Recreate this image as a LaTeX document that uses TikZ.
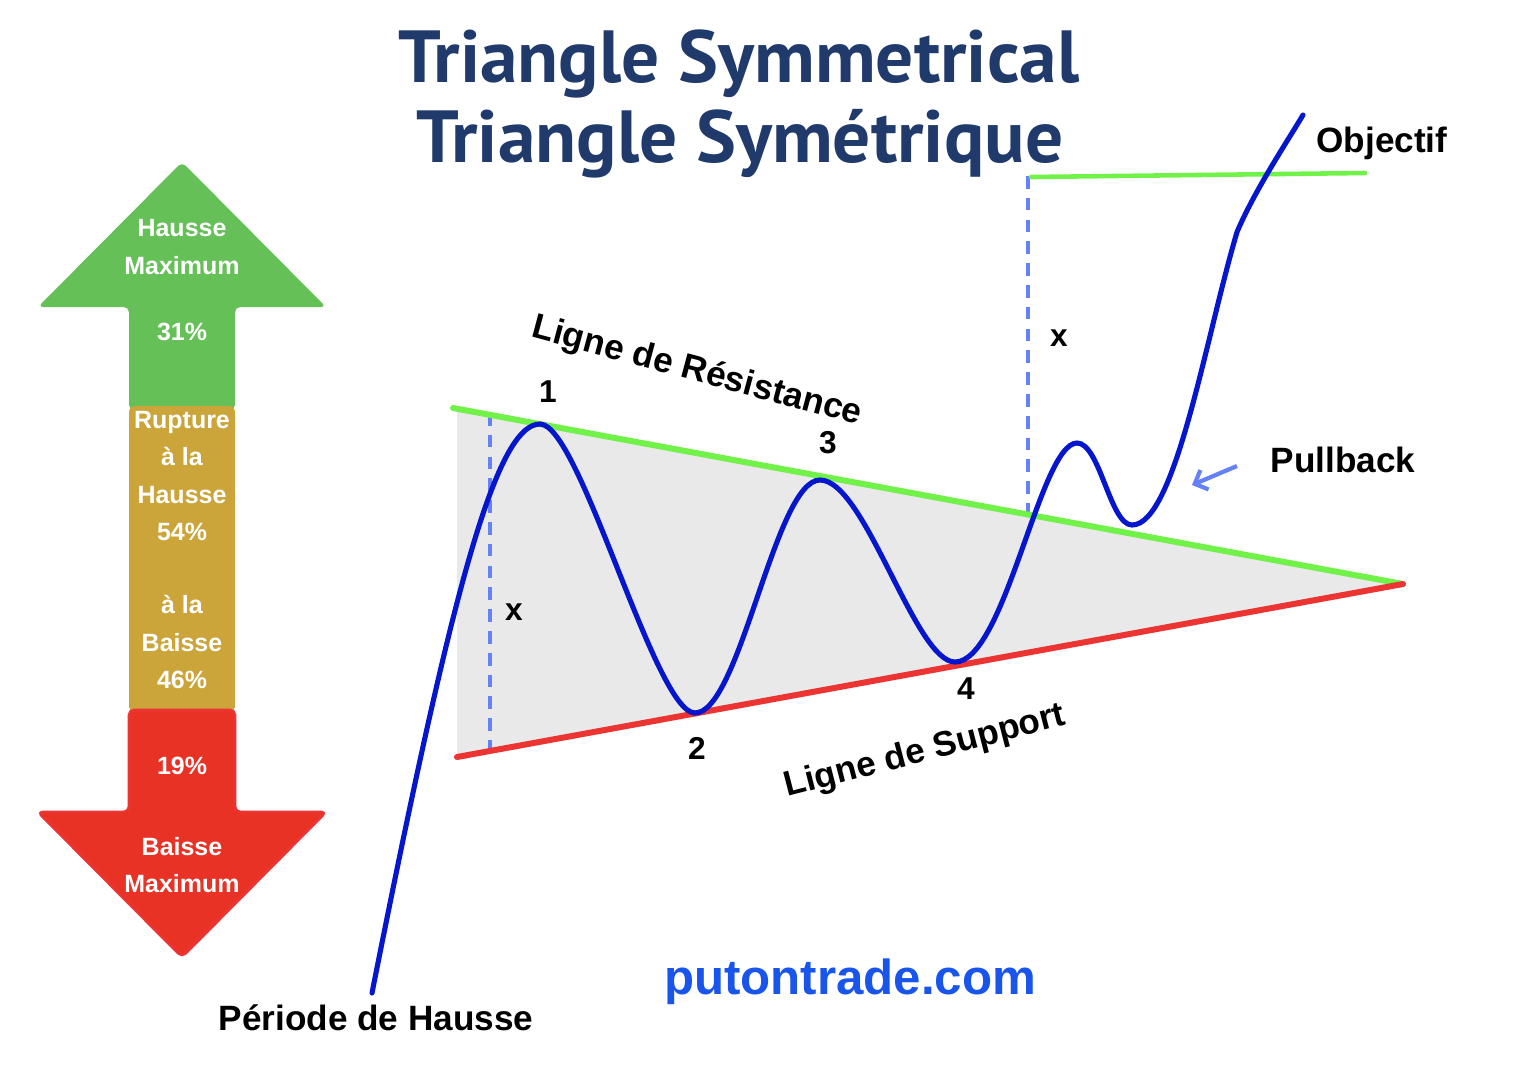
\documentclass[tikz,border=0pt]{standalone}
\usepackage{fontspec}
\setmainfont{Liberation Sans}
\newfontfamily\titlefont{PT Sans}
\usepackage{tikz}
\usetikzlibrary{arrows.meta, positioning, calc}
\usepackage{xcolor}
\definecolor{titlenavy}{RGB}{33, 58, 108}
\definecolor{upgreen}{RGB}{101, 192, 88}
\definecolor{rupgold}{RGB}{203, 165, 58}
\definecolor{downred}{RGB}{232, 50, 38}
\definecolor{resgreen}{RGB}{112, 242, 72}
\definecolor{supred}{RGB}{236, 52, 50}
\definecolor{curveblue}{RGB}{5, 22, 205}
\definecolor{dashblue}{RGB}{100, 130, 245}
\definecolor{siteblue}{RGB}{25, 85, 235}
\definecolor{trifill}{RGB}{233, 233, 233}

\begin{document}
\begin{tikzpicture}[x=0.01cm, y=-0.01cm,
  title/.style={font=\titlefont\bfseries\fontsize{21}{25}\selectfont, text=titlenavy, anchor=base, inner sep=0pt},
  arrtext/.style={font=\bfseries\fontsize{7.1}{10.6}\selectfont, text=white, align=center, inner sep=0pt},
  lbl/.style={font=\bfseries\fontsize{10}{12}\selectfont, inner sep=1pt},
  num/.style={font=\bfseries\fontsize{9}{11}\selectfont, inner sep=0pt},
  trend/.style={line width=1.7pt, line cap=round},
  wave/.style={line width=1.45pt, curveblue, line cap=round},
  measure/.style={line width=1.3pt, dashblue, dash pattern=on 3.6pt off 2.6pt},
]
  \useasboundingbox (0,0) rectangle (1536,1081);

  \node[title] (title1) at (739,82) {\scalebox{1.02}[1]{Triangle Symmetrical}};
  \node[title] (title2) at (740,162) {\scalebox{1.02}[1]{Triangle Symétrique}};

  \fill[upgreen, rounded corners=1.5pt] (38,307) -- (182,162) -- (326,307) -- (235,307) -- (235,410) -- (129,410) -- (129,307) -- cycle;
  \fill[rupgold, rounded corners=1.5pt] (129,406) rectangle (235,712);
  \fill[downred, draw=supred, line width=0.8pt, rounded corners=1.5pt] (129,710) -- (235,710) -- (235,812) -- (326,812) -- (182,957) -- (38,812) -- (129,812) -- cycle;

  \node[arrtext] (upMax) at (182,247) {Hausse\\Maximum};
  \node[arrtext] (upPct) at (182,332) {31\%};
  \node[arrtext] (rupUp) at (182,476) {Rupture\\à la\\Hausse\\54\%};
  \node[arrtext] (rupDown) at (182,642) {à la\\Baisse\\46\%};
  \node[arrtext] (downPct) at (182,766) {19\%};
  \node[arrtext] (downMax) at (182,865) {Baisse\\Maximum};

  \coordinate (resA) at (453,408);
  \coordinate (apex) at (1403,584);
  \coordinate (supA) at (457,757);
  \fill[trifill] (457,409) -- (apex) -- (supA) -- cycle;

  \coordinate (xlTop) at (490,413);
  \coordinate (xlBot) at (490,750);
  \coordinate (xrTop) at (1028,176);
  \coordinate (xrBot) at (1028,512);
  \draw[measure] (xlTop) -- (xlBot);
  \draw[measure] (xrTop) -- (xrBot);

  \draw[trend, resgreen] (resA) -- (apex);
  \draw[trend, supred] (supA) -- (apex);

  \coordinate (goalA) at (1031,177);
  \coordinate (goalB) at (1365,173);
  \draw[trend, resgreen, line width=1.3pt] (goalA) -- (goalB);

  \draw[wave] (372,993) .. controls (450,600) and (495,424) .. (540,424)
    .. controls (580,424) and (655,713) .. (695,713)
    .. controls (740,713) and (775,480) .. (820,480)
    .. controls (865,480) and (915,662) .. (955,662)
    .. controls (1005,662) and (1040,443) .. (1077,443)
    .. controls (1100,443) and (1110,525) .. (1132,525)
    .. controls (1175,525) and (1205,340) .. (1237,232)
    .. controls (1255,190) and (1285,145) .. (1303,115);

  \node[num] (n1) at (548,392) {1};
  \node[num] (n2) at (697,748) {2};
  \node[num] (n3) at (828,443) {3};
  \node[num] (n4) at (966,689) {4};
  \node[num] (xl) at (514,612) {x};
  \node[num] (xr) at (1059,338) {x};

  \node[lbl, rotate=-15] (resLbl) at (697,372) {Ligne de Résistance};
  \node[lbl, rotate=14.5, inner sep=0pt] (supLbl) at (925,752) {Ligne de Support};
  \node[lbl] (goal) at (1382,143) {Objectif};
  \node[lbl] (pull) at (1343,460) {Pullback};
  \node[lbl] (trendUp) at (376,1018) {Période de Hausse};
  \node[font=\bfseries\fontsize{14}{16}\selectfont, text=siteblue] (site) at (850,982) {putontrade.com};

  \coordinate (pbTail) at (1237,466);
  \coordinate (pbHead) at (1192,485);
  \draw[-{Straight Barb[length=3pt, width=6pt]}, line width=1.2pt, dashblue] (pbTail) -- (pbHead);
\end{tikzpicture}
\end{document}
